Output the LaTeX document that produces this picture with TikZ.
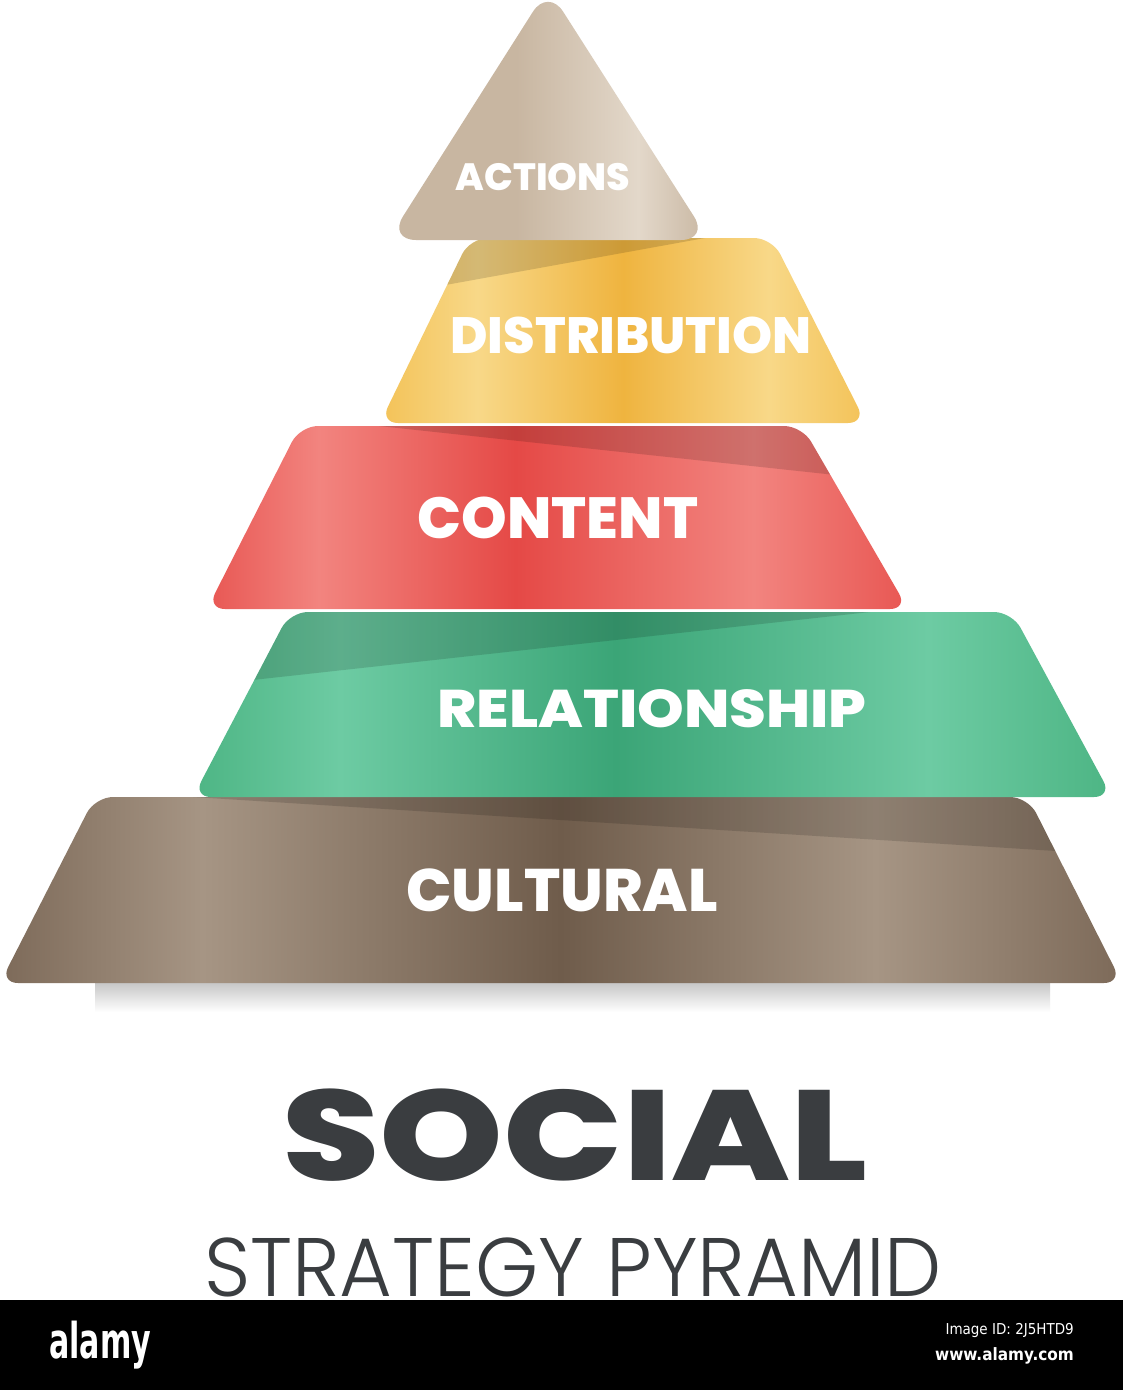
\documentclass[tikz,border=0pt]{standalone}
\usepackage{fontspec}
\setmainfont{Poppins}
\IfFontExistsTF{Poppins ExtraBold}{\newfontfamily\heavyfont{Poppins ExtraBold}}{\newcommand\heavyfont{\bfseries}}
\IfFontExistsTF{Poppins Light}{\newfontfamily\thinfont{Poppins Light}}{\newcommand\thinfont{\normalfont}}
\IfFontExistsTF{DejaVu Sans Condensed}{\newfontfamily\barfont{DejaVu Sans Condensed}}{\newfontfamily\barfont{DejaVu Sans}}
\usetikzlibrary{positioning}

\definecolor{cultA}{HTML}{7D6A59}
\definecolor{cultB}{HTML}{A69584}
\definecolor{cultC}{HTML}{6F5C4B}
\definecolor{relA}{HTML}{4DB584}
\definecolor{relB}{HTML}{6DCBA3}
\definecolor{relC}{HTML}{3BA577}
\definecolor{conA}{HTML}{E85753}
\definecolor{conB}{HTML}{F2847F}
\definecolor{conC}{HTML}{E54946}
\definecolor{disA}{HTML}{F3C257}
\definecolor{disB}{HTML}{F8D888}
\definecolor{disC}{HTML}{EFB43F}
\definecolor{actA}{HTML}{C8B6A1}
\definecolor{actB}{HTML}{E3D8CA}
\definecolor{titlegray}{HTML}{3A3D40}

\pgfdeclarehorizontalshading{cultshade}{100bp}{color(0bp)=(cultA); color(25bp)=(cultA); color(34bp)=(cultB); color(50bp)=(cultC); color(64bp)=(cultB); color(75bp)=(cultA); color(100bp)=(cultA)}
\pgfdeclarehorizontalshading{relshade}{100bp}{color(0bp)=(relA); color(25bp)=(relA); color(33bp)=(relB); color(48bp)=(relC); color(65bp)=(relB); color(75bp)=(relA); color(100bp)=(relA)}
\pgfdeclarehorizontalshading{conshade}{100bp}{color(0bp)=(conA); color(25bp)=(conA); color(33bp)=(conB); color(47bp)=(conC); color(64bp)=(conB); color(75bp)=(conA); color(100bp)=(conA)}
\pgfdeclarehorizontalshading{disshade}{100bp}{color(0bp)=(disA); color(25bp)=(disA); color(35bp)=(disB); color(50bp)=(disC); color(65bp)=(disB); color(75bp)=(disA); color(100bp)=(disA)}
\pgfdeclarehorizontalshading{actshade}{100bp}{color(0bp)=(actA); color(25bp)=(actA); color(45bp)=(actA); color(64bp)=(actB); color(75bp)=(actA); color(100bp)=(actA)}

\begin{document}
\begin{tikzpicture}[
    x=1pt, y=-1pt,
    tier/.style={rounded corners=18pt},
    fold/.style={fill=black, opacity=0.14},
    tier label/.style={text=white, anchor=base, inner sep=0pt},
    ]

    \useasboundingbox (0,0) rectangle (1123,1390);
    \fill[white] (0,0) rectangle (1123,1390);

    \fill[top color=black!22, bottom color=white] (95,983) rectangle (1050,1012);

    \path[tier, shading=cultshade] (0,983) -- (95,797) -- (1028,797) -- (1122,983) -- cycle;
    \begin{scope}
      \clip[tier] (0,983) -- (95,797) -- (1028,797) -- (1122,983) -- cycle;
      \fill[fold] (193,797) -- (1120,855) -- (1120,780) -- (193,780) -- cycle;
    \end{scope}

    \path[tier, shading=relshade] (193,797) -- (290,612) -- (1012,612) -- (1112,797) -- cycle;
    \begin{scope}
      \clip[tier] (193,797) -- (290,612) -- (1012,612) -- (1112,797) -- cycle;
      \fill[fold] (180,688) -- (870,612) -- (870,600) -- (180,600) -- cycle;
    \end{scope}

    \path[tier, shading=conshade] (207,609) -- (300,426) -- (802,426) -- (908,609) -- cycle;
    \begin{scope}
      \clip[tier] (207,609) -- (300,426) -- (802,426) -- (908,609) -- cycle;
      \fill[fold] (379,426) -- (910,483) -- (910,410) -- (379,410) -- cycle;
    \end{scope}

    \path[tier, shading=disshade] (380,423) -- (470,238) -- (772,238) -- (866,423) -- cycle;
    \begin{scope}
      \clip[tier] (380,423) -- (470,238) -- (772,238) -- (866,423) -- cycle;
      \fill[fold] (440,286) -- (705,238) -- (705,225) -- (440,225) -- cycle;
    \end{scope}

    \path[rounded corners=28pt, shading=actshade] (388,240) -- (548,-12) -- (709,240) -- cycle;

    \node[tier label, font={\heavyfont\fontsize{38}{38}\selectfont}] (actions) at (543,190) {ACTIONS};
    \node[tier label, font={\heavyfont\fontsize{51}{51}\selectfont}] (distribution) at (631,353) {DISTRIBUTION};
    \node[tier label, font={\heavyfont\fontsize{58}{58}\selectfont}] (content) at (558,538) {CONTENT};
    \node[tier label, font={\heavyfont\fontsize{53}{53}\selectfont}] (relationship) at (652,727) {\scalebox{1.12}[1]{RELATIONSHIP}};
    \node[tier label, font={\heavyfont\fontsize{60}{60}\selectfont}] (cultural) at (562,911) {CULTURAL};

    \node[text=titlegray, anchor=base, inner sep=0pt, font={\heavyfont\fontsize{128}{128}\selectfont}] (social) at (575,1180) {\scalebox{1.23}[1]{SOCIAL}};
    \node[text=titlegray, anchor=base, inner sep=0pt, font={\thinfont\fontsize{83}{83}\selectfont}] (strategy) at (573,1296) {\scalebox{0.975}[1]{STRATEGY PYRAMID}};

    \fill[black] (0,1300) rectangle (1123,1390);
    \node[text=white, anchor=west, inner sep=0pt, font={\barfont\bfseries\fontsize{44}{44}\selectfont}] (alamy) at (49,1345) {\scalebox{0.76}[1.12]{alamy}};
    \node[text=white, anchor=east, inner sep=0pt, font={\barfont\fontsize{15}{15}\selectfont}] (imageid) at (1074,1330) {Image ID: 2J5HTD9};
    \node[text=white, below=10pt of imageid.south east, anchor=north east, inner sep=0pt, font={\barfont\bfseries\fontsize{17}{17}\selectfont}] (website) {www.alamy.com};

\end{tikzpicture}
\end{document}
